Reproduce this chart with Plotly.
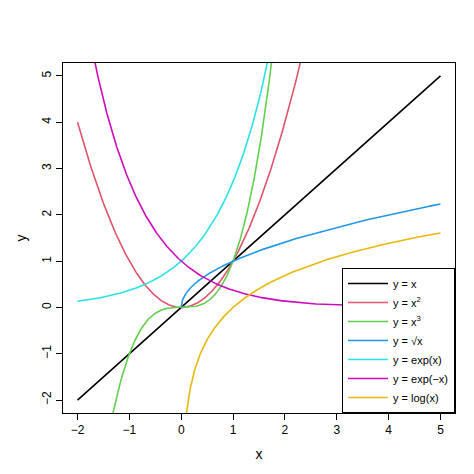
import numpy as np
import plotly.graph_objects as go

x_all = np.linspace(-2, 5, 1401)
x_pos = np.linspace(0, 5, 1001)
x_log = np.linspace(0.01, 5, 1000)

names = ["y = x", "y = x<sup>2</sup>", "y = x<sup>3</sup>", "y = √x", "y = exp(x)", "y = exp(−x)", "y = log(x)"]
colors = ["#000000", "#DF536B", "#61D04F", "#2297E6", "#28E2E5", "#CD0BBC", "#E8B90A"]
xs = [x_all, x_all, x_all, x_pos, x_all, x_all, x_log]
ys = [x_all, x_all**2, x_all**3, np.sqrt(x_pos), np.exp(x_all), np.exp(-x_all), np.log(x_log)]
x_ticks = [-2, -1, 0, 1, 2, 3, 4, 5]
y_ticks = [-2, -1, 0, 1, 2, 3, 4, 5]

fig = go.Figure()
for n, c, xx, yy in zip(names, colors, xs, ys):
    yy = np.where((yy > 6) | (yy < -3), np.nan, yy)
    fig.add_trace(go.Scatter(x=xx, y=yy, mode="lines", name=n,
                             line=dict(color=c, width=1.6)))

ax = dict(showgrid=False, zeroline=False, showline=True, mirror=True,
          linecolor="black", linewidth=1, ticks="outside", ticklen=6,
          tickcolor="black", tickfont=dict(size=12, color="black"), automargin=False)
fig.update_layout(
    width=474, height=474, plot_bgcolor="white", paper_bgcolor="white",
    font=dict(family="Liberation Sans, Arial", size=12, color="black"),
    margin=dict(l=55, r=27, t=55, b=69, autoexpand=False),
    xaxis=dict(range=[-2.28, 5.28], tickvals=x_ticks, title=dict(text="x", standoff=12), **ax),
    yaxis=dict(range=[-2.28, 5.28], tickvals=y_ticks, tickangle=-90,
               title=dict(text="y", standoff=10), **ax),
    legend=dict(x=1, y=0, xanchor="right", yanchor="bottom",
                bordercolor="black", borderwidth=1, bgcolor="white",
                font=dict(size=11), tracegroupgap=0, itemwidth=40,
                entrywidth=70),
    showlegend=True,
)
fig.write_html("out.html")
